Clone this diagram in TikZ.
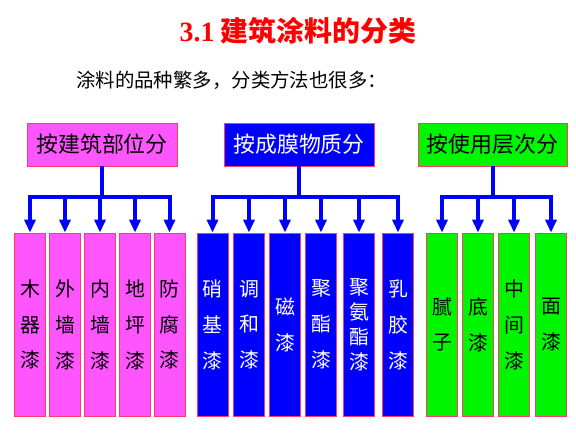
\documentclass[tikz,border=0pt]{standalone}
\usepackage{fontspec}
\setmainfont{Noto Sans CJK SC}
\newfontfamily\numfont{Liberation Serif}
\usetikzlibrary{arrows.meta}

\definecolor{boxpink}{RGB}{255,85,255}
\definecolor{boxblue}{RGB}{0,0,255}
\definecolor{boxgreen}{RGB}{0,245,0}
\definecolor{rimred}{RGB}{255,60,100}
\definecolor{linkblue}{RGB}{0,0,255}

\newcommand*{\heady}{144.5}
\newcommand*{\bary}{197}
\newcommand*{\boxy}{324.5}

\begin{document}
\begin{tikzpicture}
[
	x=1bp,y=-1bp,
	head/.style={draw=rimred,line width=0.8bp,minimum width=150bp,minimum height=43bp,inner sep=0pt,font=\fontsize{22}{22}\selectfont},
	kind/.style={draw=rimred,line width=0.8bp,minimum width=31bp,minimum height=183bp,inner sep=0pt,align=center,font=\fontsize{20}{36}\selectfont},
	link/.style={draw=linkblue,line width=4bp},
	drop/.style={link,-{Triangle[width=11bp,length=13bp]}}
]

	\useasboundingbox (0,0) rectangle (576,432);

	% title
	\node[text=red,font=\fontsize{28}{28}\selectfont\bfseries] (title) at (298,31) {{\numfont 3.1} 建筑涂料的分类};
	\node[anchor=west,inner sep=0pt,font=\fontsize{19.5}{19.5}\selectfont] (intro) at (76,80) {涂料的品种繁多，分类方法也很多：};

	% headers
	\node[head,fill=boxpink] (h1) at (102,\heady) {按建筑部位分};
	\node[head,fill=boxblue,text=white] (h2) at (299,\heady) {按成膜物质分};
	\node[head,fill=boxgreen,minimum width=149bp] (h3) at (492.5,\heady) {按使用层次分};

	% by building part
	\node[kind,fill=boxpink] (p1) at (30,\boxy) {木\\器\\漆};
	\node[kind,fill=boxpink] (p2) at (65,\boxy) {外\\墙\\漆};
	\node[kind,fill=boxpink] (p3) at (100,\boxy) {内\\墙\\漆};
	\node[kind,fill=boxpink] (p4) at (135,\boxy) {地\\坪\\漆};
	\node[kind,fill=boxpink] (p5) at (169.5,\boxy) {防\\腐\\漆};

	% by film former
	\node[kind,fill=boxblue,text=white] (b1) at (212.5,\boxy) {硝\\基\\漆};
	\node[kind,fill=boxblue,text=white] (b2) at (249,\boxy) {调\\和\\漆};
	\node[kind,fill=boxblue,text=white] (b3) at (285,\boxy) {磁\\漆};
	\node[kind,fill=boxblue,text=white] (b4) at (321,\boxy) {聚\\酯\\漆};
	\node[kind,fill=boxblue,text=white,font=\fontsize{20}{25}\selectfont] (b5) at (359,\boxy) {聚\\氨\\酯\\漆};
	\node[kind,fill=boxblue,text=white] (b6) at (398,\boxy) {乳\\胶\\漆};

	% by coat layer
	\node[kind,fill=boxgreen] (g1) at (442,\boxy) {腻\\子};
	\node[kind,fill=boxgreen] (g2) at (478,\boxy) {底\\漆};
	\node[kind,fill=boxgreen] (g3) at (514,\boxy) {中\\间\\漆};
	\node[kind,fill=boxgreen] (g4) at (551,\boxy) {面\\漆};

	\coordinate (bar) at (0,\bary);

	% tree 1
	\draw[link] (h1.south) -- (h1.south |- bar);
	\draw[link,line cap=rect] (p1 |- bar) -- (p5 |- bar);
	\draw[drop] (p1 |- bar) -- (p1.north);
	\draw[drop] (p2 |- bar) -- (p2.north);
	\draw[drop] (p3 |- bar) -- (p3.north);
	\draw[drop] (p4 |- bar) -- (p4.north);
	\draw[drop] (p5 |- bar) -- (p5.north);

	% tree 2
	\draw[link] (h2.south) -- (h2.south |- bar);
	\draw[link,line cap=rect] (b1 |- bar) -- (b6 |- bar);
	\draw[drop] (b1 |- bar) -- (b1.north);
	\draw[drop] (b2 |- bar) -- (b2.north);
	\draw[drop] (b3 |- bar) -- (b3.north);
	\draw[drop] (b4 |- bar) -- (b4.north);
	\draw[drop] (b5 |- bar) -- (b5.north);
	\draw[drop] (b6 |- bar) -- (b6.north);

	% tree 3
	\draw[link] (h3.south) -- (h3.south |- bar);
	\draw[link,line cap=rect] (g1 |- bar) -- (g4 |- bar);
	\draw[drop] (g1 |- bar) -- (g1.north);
	\draw[drop] (g2 |- bar) -- (g2.north);
	\draw[drop] (g3 |- bar) -- (g3.north);
	\draw[drop] (g4 |- bar) -- (g4.north);

\end{tikzpicture}
\end{document}
